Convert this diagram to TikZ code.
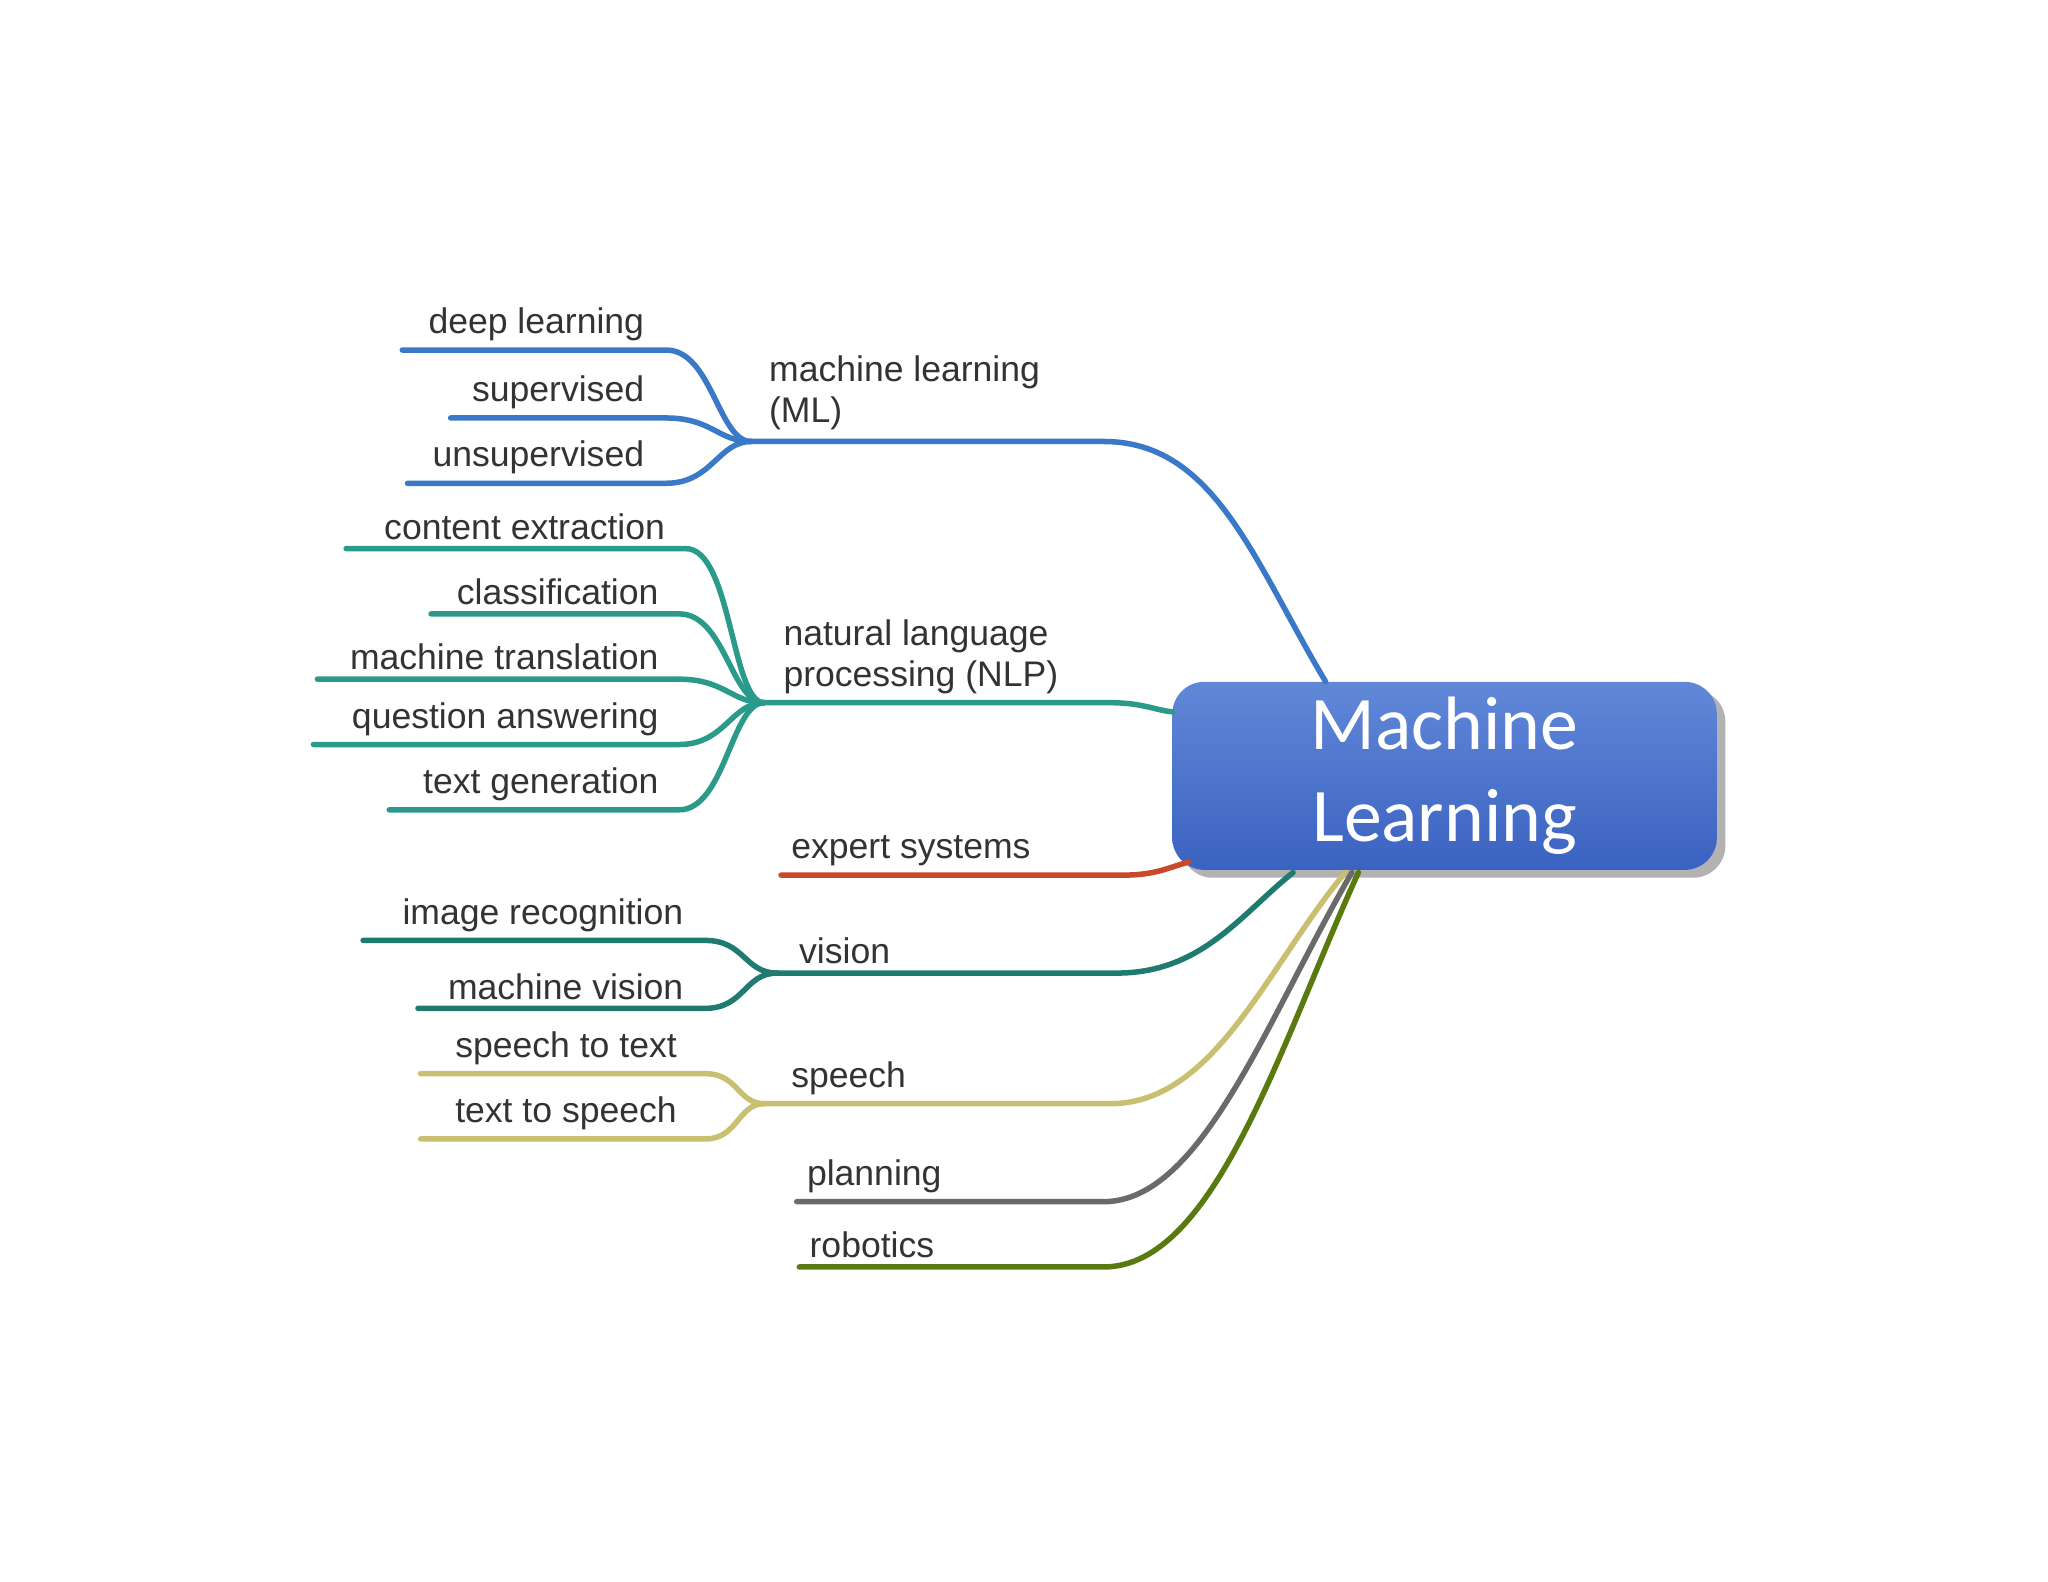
\documentclass[tikz,border=0pt]{standalone}
\usepackage{fontspec}
\setmainfont{Liberation Sans}
\newfontfamily\boxfont{Carlito}
\usepackage{xcolor}
\definecolor{mlblue}{HTML}{3A78C8}
\definecolor{nlpteal}{HTML}{2A9A8A}
\definecolor{expred}{HTML}{C84A2A}
\definecolor{vistea}{HTML}{1F7A70}
\definecolor{spyel}{HTML}{C8C070}
\definecolor{plgray}{HTML}{6A6A6A}
\definecolor{robol}{HTML}{5A7A10}
\definecolor{txtgray}{HTML}{333333}
\definecolor{boxtop}{HTML}{6188D8}
\definecolor{boxbot}{HTML}{3A62C0}
\tikzset{
  branch/.style={line width=2.4pt, line cap=round},
  lbl/.style={inner sep=2pt, text=txtgray, font=\fontsize{15.5}{18}\selectfont},
  leaf/.style={lbl, anchor=south east},
}
\begin{document}
\begin{tikzpicture}[x=0.02cm, y=-0.02cm]
    \useasboundingbox (0,0) rectangle (1568,1211);

    % central box
    \fill[gray!60, rounded corners=14pt] (904,528) rectangle (1321,672);
    \node[rounded corners=14pt, top color=boxtop, bottom color=boxbot,
          minimum width=8.34cm, minimum height=2.88cm, text=white, align=center,
          font=\boxfont\fontsize{33}{40}\selectfont] (ml) at (1106,594) {Machine\\Learning};

    % hubs and ends
    \coordinate (hML) at (575,338);
    \coordinate (hNLP) at (585,538);
    \coordinate (hVis) at (595,745);
    \coordinate (hSp) at (585,845);

    % machine learning
    \draw[branch, mlblue] (hML) -- (845,338) .. controls (930,338) and (960,430) .. (1015,522);
    \node[lbl, anchor=south west, align=left] (tML) at (585,333) {machine learning\\(ML)};
    \foreach \name/\txt/\xs/\y in {dl/deep learning/308/268, sup/supervised/345/320, uns/unsupervised/312/370}{
        \coordinate (\name a) at (\xs,\y);
        \coordinate (\name b) at (510,\y);
        \draw[branch, mlblue] (\name a) -- (\name b) .. controls +(35,0) and +(-25,0) .. (hML);
        \node[leaf] at (497,\y-3) {\txt};
    }

    % natural language processing
    \draw[branch, nlpteal] (hNLP) -- (850,538) .. controls (875,538) and (885,544) .. (898,545);
    \node[lbl, anchor=south west, align=left] (tNLP) at (596,535) {natural language\\processing (NLP)};
    \foreach \name/\txt/\xs/\xe/\y in {ce/content extraction/265/525/420, cl/classification/330/520/470,
        mt/machine translation/243/520/520, qa/question answering/240/520/570, tg/text generation/298/520/620}{
        \coordinate (\name a) at (\xs,\y);
        \coordinate (\name b) at (\xe,\y);
        \draw[branch, nlpteal] (\name a) -- (\name b) .. controls +(35,0) and +(-25,0) .. (hNLP);
        \node[leaf] at (\xe-12,\y-3) {\txt};
    }

    % expert systems
    \coordinate (esa) at (598,670);
    \draw[branch, expred] (esa) -- (860,670) .. controls (885,670) and (895,664) .. (910,660);
    \node[lbl, anchor=south west] at (602,667) {expert systems};

    % vision
    \draw[branch, vistea] (hVis) -- (855,745) .. controls (920,745) and (950,700) .. (990,668);
    \node[lbl, anchor=south west] at (608,742) {vision};
    \foreach \name/\txt/\xs/\y in {ir/image recognition/278/720, mv/machine vision/320/772}{
        \coordinate (\name a) at (\xs,\y);
        \coordinate (\name b) at (540,\y);
        \draw[branch, vistea] (\name a) -- (\name b) .. controls +(30,0) and +(-25,0) .. (hVis);
        \node[leaf] at (527,\y-3) {\txt};
    }

    % speech
    \draw[branch, spyel] (hSp) -- (850,845) .. controls (930,845) and (970,740) .. (1030,668);
    \node[lbl, anchor=south west] at (602,842) {speech};
    \foreach \name/\txt/\xs/\y in {st/speech to text/322/822, ts/text to speech/322/872}{
        \coordinate (\name a) at (\xs,\y);
        \coordinate (\name b) at (540,\y);
        \draw[branch, spyel] (\name a) -- (\name b) .. controls +(25,0) and +(-20,0) .. (hSp);
        \node[leaf] at (522,\y-3) {\txt};
    }

    % planning and robotics
    \coordinate (pla) at (610,920);
    \draw[branch, plgray] (pla) -- (845,920) .. controls (920,920) and (970,780) .. (1035,668);
    \node[lbl, anchor=south west] at (614,917) {planning};
    \coordinate (roa) at (612,970);
    \draw[branch, robol] (roa) -- (845,970) .. controls (930,970) and (980,800) .. (1040,668);
    \node[lbl, anchor=south west] at (616,967) {robotics};
\end{tikzpicture}
\end{document}
